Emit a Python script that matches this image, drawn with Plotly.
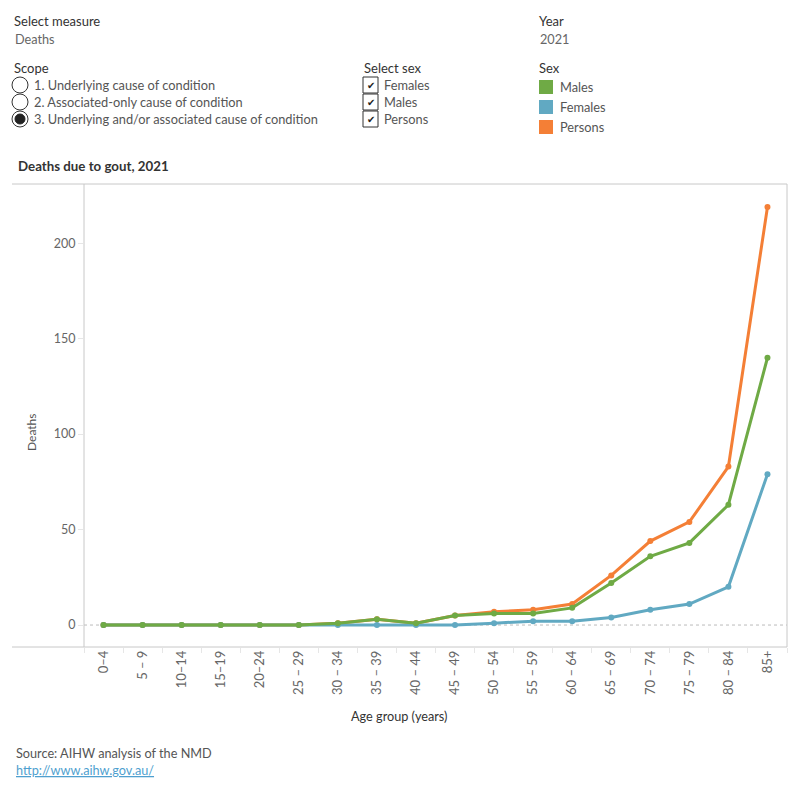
import plotly.graph_objects as go

age_groups = ["0–4", "5 – 9", "10–14", "15–19", "20–24", "25 – 29", "30 – 34", "35 – 39",
              "40 – 44", "45 – 49", "50 – 54", "55 – 59", "60 – 64", "65 – 69", "70 – 74",
              "75 – 79", "80 – 84", "85+"]
males = [0, 0, 0, 0, 0, 0, 1, 3, 1, 5, 6, 6, 9, 22, 36, 43, 63, 140]
females = [0, 0, 0, 0, 0, 0, 0, 0, 0, 0, 1, 2, 2, 4, 8, 11, 20, 79]
persons = [0, 0, 0, 0, 0, 0, 1, 3, 1, 5, 7, 8, 11, 26, 44, 54, 83, 219]
y_ticks = [0, 50, 100, 150, 200]

C_M = "#6faa45"
C_F = "#61a9c2"
C_P = "#f47f36"
FONT = "Lato"

W, H = 800, 800
L, R, T, B = 84, 787, 184, 647


def px(x):
    return (x - L) / (R - L)


def py(y):
    return (B - y) / (B - T)


fig = go.Figure()
for name, vals, col in [("Persons", persons, C_P), ("Females", females, C_F), ("Males", males, C_M)]:
    fig.add_trace(go.Scatter(x=age_groups, y=vals, name=name, mode="lines+markers",
                             line=dict(color=col, width=3), marker=dict(color=col, size=6),
                             showlegend=False))

ann = []
shapes = []


def text(x, y, s, size=12.5, color="#555555", bold=False, xanchor="left", angle=0):
    if bold:
        s = "<b>" + s + "</b>"
    ann.append(dict(x=px(x), y=py(y), xref="paper", yref="paper", text=s, showarrow=False,
                    xanchor=xanchor, yanchor="middle", textangle=angle,
                    font=dict(family=FONT, size=size, color=color)))


def line(x0, y0, x1, y1, color="#c8c8c8", width=1, dash="solid"):
    shapes.append(dict(type="line", xref="paper", yref="paper", x0=px(x0), y0=py(y0),
                       x1=px(x1), y1=py(y1), line=dict(color=color, width=width, dash=dash)))


# header controls
text(12, 21, "Select measure", 13, "#333333")
text(13, 39, "Deaths", 12.7, "#666666")
text(537, 21, "Year", 13, "#333333")
text(538, 39, "2021", 12.7, "#666666")
text(12, 68, "Scope", 13, "#333333")
scope_labels = ["1. Underlying cause of condition", "2. Associated-only cause of condition",
                "3. Underlying and/or associated cause of condition"]
for i, s in enumerate(scope_labels):
    yy = 85 + 17 * i
    shapes.append(dict(type="circle", xref="paper", yref="paper", x0=px(12), x1=px(28),
                       y0=py(yy + 8), y1=py(yy - 8), line=dict(color="#333333", width=1),
                       fillcolor="white"))
    if i == 2:
        shapes.append(dict(type="circle", xref="paper", yref="paper", x0=px(15), x1=px(25),
                           y0=py(yy + 5), y1=py(yy - 5), line=dict(color="#222222", width=1),
                           fillcolor="#222222"))
    text(32, yy, s, 12.8, "#555555")

text(362, 68, "Select sex", 13, "#333333")
sex_labels = ["Females", "Males", "Persons"]
for i, s in enumerate(sex_labels):
    yy = 85 + 17 * i
    shapes.append(dict(type="rect", xref="paper", yref="paper", x0=px(363), x1=px(378),
                       y0=py(yy + 8), y1=py(yy - 8), line=dict(color="#333333", width=1),
                       fillcolor="white"))
    text(370.5, yy, "✔", 10, "#222222", xanchor="center")
    text(382, yy, s, 12.8, "#555555")

text(537, 68, "Sex", 13, "#333333", bold=False)
for i, (s, c) in enumerate([("Males", C_M), ("Females", C_F), ("Persons", C_P)]):
    yy = 87 + 20 * i
    shapes.append(dict(type="rect", xref="paper", yref="paper", x0=px(539), x1=px(553),
                       y0=py(yy + 7), y1=py(yy - 7), line=dict(width=0), fillcolor=c))
    text(558, yy, s, 12.8, "#555555")

text(16, 166, "Deaths due to gout, 2021", 13.3, "#333333", bold=True)
text(399, 716, "Age group (years)", 12.7, "#333333", xanchor="center")
text(31, 433, "Deaths", 12, "#555555", xanchor="center", angle=-90)
text(14, 753, "Source: AIHW analysis of the NMD", 12.7, "#555555")
text(14, 770, "<u>http://www.aihw.gov.au/</u>", 12.7, "#4f9fcf")

# frame
line(12, T, R, T)
line(12, B, R, B)
line(L, T, L, B)
line(R, T, R, B)
# zero line dotted
shapes.append(dict(type="line", xref="paper", yref="y", x0=0, x1=1, y0=0, y1=0, layer="below",
                   line=dict(color="#bbbbbb", width=1, dash="dot")))

fig.update_layout(
    width=W, height=H,
    margin=dict(l=L, r=W - R, t=T, b=H - B, pad=0),
    paper_bgcolor="white", plot_bgcolor="white",
    font=dict(family=FONT, size=12, color="#555555"),
    annotations=ann, shapes=shapes,
    xaxis=dict(type="category", range=[-0.5, 17.5], showgrid=False, zeroline=False,
               showline=False, tickangle=-90, ticks="outside", tickson="boundaries",
               ticklen=5, tickcolor="#e6e6e6", tickfont=dict(family=FONT, size=13, color="#666666")),
    yaxis=dict(range=[-11.5, 231], tickvals=y_ticks, showgrid=False, zeroline=False,
               showline=False, ticks="outside", ticklen=5, tickcolor="#e6e6e6",
               tickfont=dict(family=FONT, size=12.5, color="#666666")),
)

fig.write_html("out.html")
